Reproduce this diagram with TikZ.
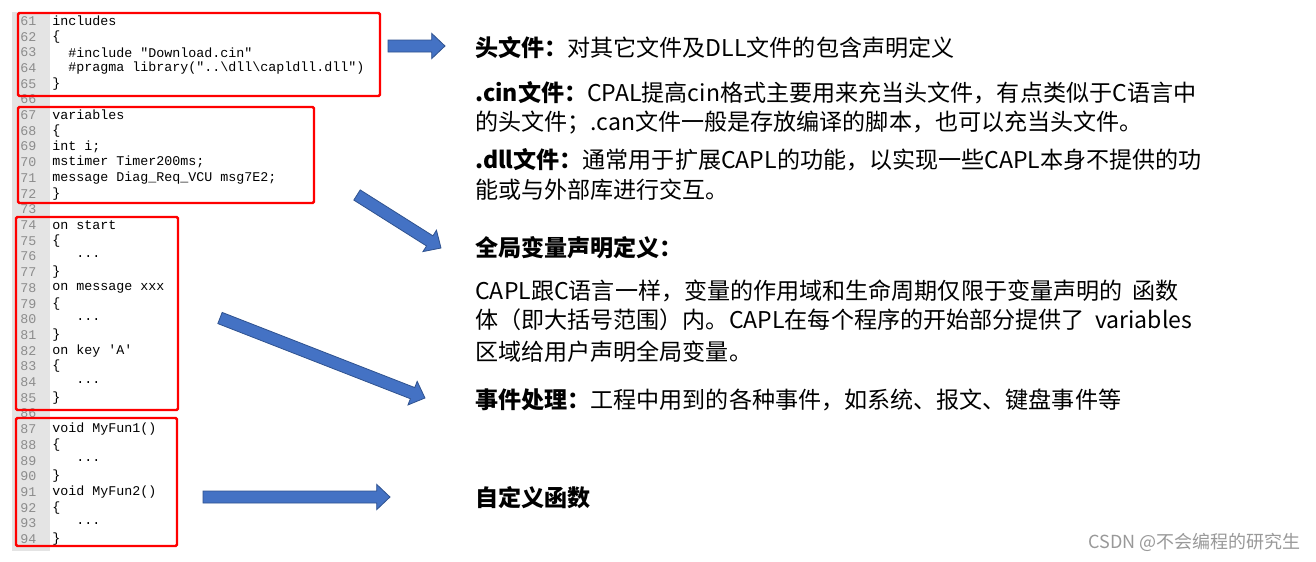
\documentclass[tikz,border=0pt]{standalone}
\usepackage{fontspec}
\setmainfont{Noto Sans CJK SC}
\newfontfamily\codefont{Liberation Mono}
\usetikzlibrary{calc}
\definecolor{arrowblue}{HTML}{4472C4}
\definecolor{arrowedge}{HTML}{2F528F}
\definecolor{gutter}{HTML}{E4E4E4}
\definecolor{numgray}{HTML}{8C8C8C}
\tikzset{
  codeline/.style={anchor=west,inner sep=0pt,font=\codefont\fontsize{10pt}{12pt}\selectfont},
  numline/.style={anchor=west,inner sep=0pt,text=numgray,font=\codefont\fontsize{10pt}{12pt}\selectfont},
  redbox/.style={draw=red,line width=1.8pt,rounded corners=1pt},
  desc/.style={anchor=west,inner sep=0pt,font=\fontsize{17.3pt}{21pt}\selectfont},
  bigarrow/.style={fill=arrowblue,draw=arrowedge,line width=0.6pt}
}
\begin{document}
\begin{tikzpicture}[x=0.75pt,y=-0.75pt]
\useasboundingbox (0,0) rectangle (1316,561);
\fill[white] (0,0) rectangle (1316,561);
\fill[gutter] (12,12) rectangle (50,551);
\foreach \n/\t [count=\i from 0] in {61/includes,62/\{,63/{\ \ \#include "Download.cin"},64/{\ \ \#pragma library("..\textbackslash dll\textbackslash capldll.dll")},65/\},66/{},67/variables,68/\{,69/{int i;},70/{mstimer Timer200ms;},71/{message Diag\_Req\_VCU msg7E2;},72/\},73/{},74/{on start},75/\{,76/{\ \ \ ...},77/\},78/{on message xxx},79/\{,80/{\ \ \ ...},81/\},82/{on key 'A'},83/\{,84/{\ \ \ ...},85/\},86/{},87/{void MyFun1()},88/\{,89/{\ \ \ ...},90/\},91/{void MyFun2()},92/\{,93/{\ \ \ ...},94/\}}{
  \node[numline] (n\n) at (20,{21+\i*15.7}) {\n};
  \node[codeline] (c\n) at (52,{21+\i*15.7}) {\t};
}
\draw[redbox] (18,13) rectangle (380,96);
\draw[redbox] (18,107) rectangle (314,203);
\draw[redbox] (16,217) rectangle (178,410);
\draw[redbox] (16,418) rectangle (177,546);
% arrows
\coordinate (a1s) at (388,46); \coordinate (a1e) at (445,46);
\coordinate (a2s) at (357,195); \coordinate (a2e) at (441,248);
\coordinate (a3s) at (220,318); \coordinate (a3e) at (425,398);
\coordinate (a4s) at (203,497); \coordinate (a4e) at (390,497);
\foreach \s/\e in {a1s/a1e,a2s/a2e,a3s/a3e,a4s/a4e}{
  \path let \p1=($(\e)-(\s)$), \n1={atan2(\y1,\x1)}, \n2={veclen(\x1,\y1)} in
    [shift={(\s)},rotate=\n1] [bigarrow]
    (0pt,-4.5pt) -- ({\n2-10pt},-4.5pt) -- ({\n2-10pt},-9.5pt) -- (\n2,0pt)
    -- ({\n2-10pt},9.5pt) -- ({\n2-10pt},4.5pt) -- (0pt,4.5pt) -- cycle;
}
% text
\node[desc] (t1) at (475,48) {\textbf{头文件：}对其它文件及DLL文件的包含声明定义};
\node[desc] (t2) at (475,93) {\textbf{.cin文件：}CPAL提高cin格式主要用来充当头文件，有点类似于C语言中};
\node[desc] (t3) at (475,123) {的头文件；.can文件一般是存放编译的脚本，也可以充当头文件。};
\node[desc] (t4) at (475,160) {\textbf{.dll文件：}通常用于扩展CAPL的功能，以实现一些CAPL本身不提供的功};
\node[desc] (t5) at (475,190) {能或与外部库进行交互。};
\node[desc] (t6) at (475,248) {\textbf{全局变量声明定义：}};
\node[desc] (t7) at (475,291) {CAPL跟C语言一样，变量的作用域和生命周期仅限于变量声明的\ \ 函数};
\node[desc] (t8) at (475,320) {体（即大括号范围）内。CAPL在每个程序的开始部分提供了\ \ variables};
\node[desc] (t9) at (475,352) {区域给用户声明全局变量。};
\node[desc] (t10) at (475,400) {\textbf{事件处理：}工程中用到的各种事件，如系统、报文、键盘事件等};
\node[desc] (t11) at (475,498) {\textbf{自定义函数}};
\node[anchor=east,inner sep=0pt,text=gray!80,font=\fontsize{13.5pt}{16pt}\selectfont] (wm) at (1301,542) {CSDN @不会编程的研究生};
\end{tikzpicture}
\end{document}
